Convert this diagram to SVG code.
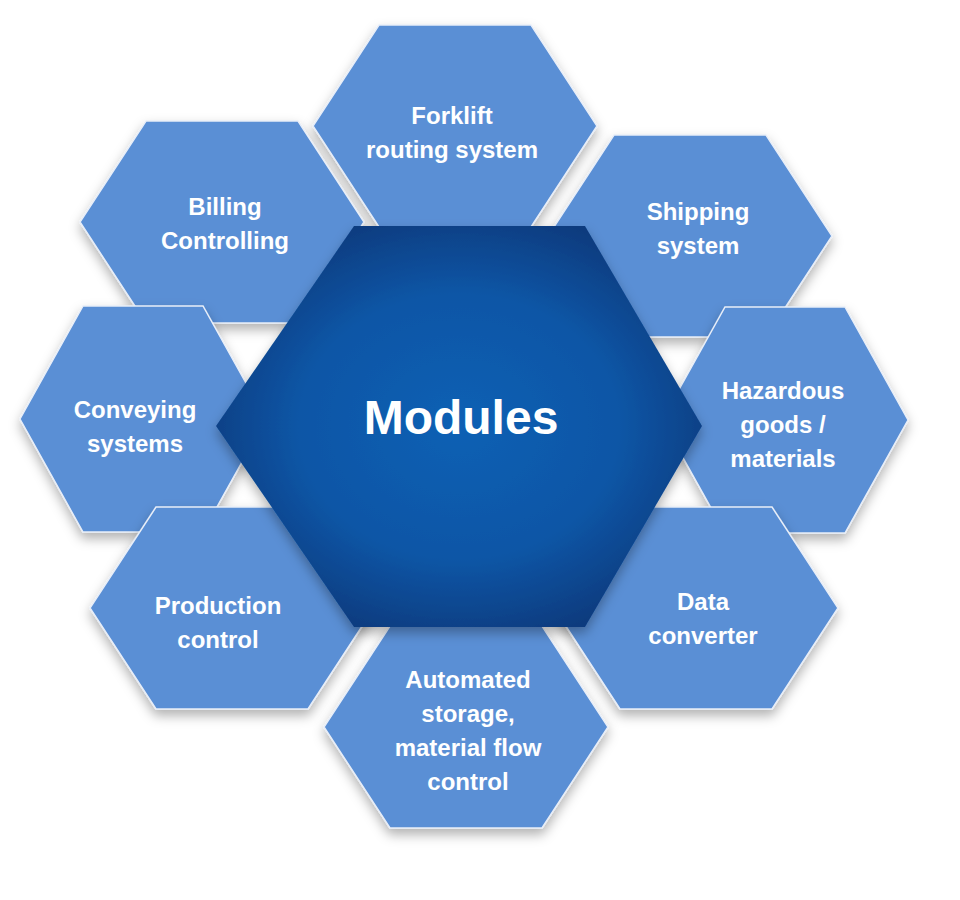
<svg xmlns="http://www.w3.org/2000/svg" width="960" height="900" viewBox="0 0 960 900">
<style>
.o{fill:#5a8fd5;stroke:#e8eef8;stroke-width:1.5}
.t{fill:#fff;font-family:"Liberation Sans",Arial,sans-serif;font-weight:bold;font-size:24px;text-anchor:middle}
</style>
<defs>
<radialGradient id="g" cx="0.5" cy="0.5" r="0.55">
<stop offset="0" stop-color="#0a60b4"/><stop offset="0.6" stop-color="#0a56a6"/><stop offset="1" stop-color="#0b3b7e"/>
</radialGradient>
<filter id="s" x="-20%" y="-20%" width="140%" height="150%"><feDropShadow dx="0" dy="6" stdDeviation="6" flood-color="#000" flood-opacity="0.3"/></filter>
<polygon id="h" points="-76,-101 76,-101 142,0 76,101 -76,101 -142,0"/>
<polygon id="v" points="-60,-113 60,-113 123,0 60,113 -60,113 -123,0"/>
</defs>
<g id="forklift"><use href="#h" class="o" transform="translate(455,126)" filter="url(#s)"/><text class="t" x="452" y="124">Forklift</text><text class="t" x="452" y="158">routing system</text></g>
<g id="shipping"><use href="#h" class="o" transform="translate(690,236)" filter="url(#s)"/><text class="t" x="698" y="220">Shipping</text><text class="t" x="698" y="254">system</text></g>
<g id="billing"><use href="#h" class="o" transform="translate(222,222)" filter="url(#s)"/><text class="t" x="225" y="215">Billing</text><text class="t" x="225" y="249">Controlling</text></g>
<g id="conveying"><use href="#v" class="o" transform="translate(143,419)" filter="url(#s)"/><text class="t" x="135" y="418">Conveying</text><text class="t" x="135" y="452">systems</text></g>
<g id="hazardous"><use href="#v" class="o" transform="translate(785,420)" filter="url(#s)"/><text class="t" x="783" y="399">Hazardous</text><text class="t" x="783" y="433">goods /</text><text class="t" x="783" y="467">materials</text></g>
<g id="production"><use href="#h" class="o" transform="translate(232,608)" filter="url(#s)"/><text class="t" x="218" y="614">Production</text><text class="t" x="218" y="648">control</text></g>
<g id="data"><use href="#h" class="o" transform="translate(696,608)" filter="url(#s)"/><text class="t" x="703" y="610">Data</text><text class="t" x="703" y="644">converter</text></g>
<g id="automated"><use href="#h" class="o" transform="translate(466,727)" filter="url(#s)"/><text class="t" x="468" y="688">Automated</text><text class="t" x="468" y="722">storage,</text><text class="t" x="468" y="756">material flow</text><text class="t" x="468" y="790">control</text></g>
<g id="modules"><polygon points="354,226 585,226 702,426 585,627 354,627 216,426" fill="url(#g)" filter="url(#s)"/><text x="461" y="434" fill="#fff" font-family="Liberation Sans,Arial,sans-serif" font-weight="bold" font-size="48" text-anchor="middle">Modules</text></g>
<g id="connectors"/>
</svg>
